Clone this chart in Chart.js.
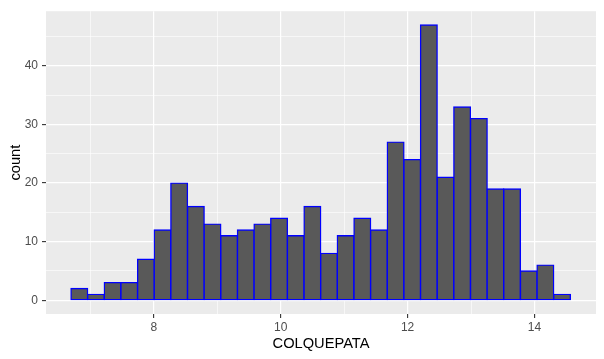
<!DOCTYPE html>
<html>
<head>
<meta charset="utf-8">
<script src="https://cdn.jsdelivr.net/npm/chart.js@4.4.1/dist/chart.umd.min.js"></script>
<style>
    html, body {
        margin: 0;
        padding: 0;
        background: #ffffff;
    }
    #wrap {
        width: 604px;
        height: 359px;
    }
</style>
</head>
<body>
<div id="wrap"><canvas id="myChart" width="604" height="359"></canvas></div>
<script>
// histogram of COLQUEPATA, 30 bins
const binCenters = [6.825, 7.087, 7.350, 7.612, 7.875, 8.137, 8.399, 8.662, 8.924, 9.187,
    9.449, 9.711, 9.974, 10.236, 10.499, 10.761, 11.023, 11.286, 11.548, 11.811,
    12.073, 12.335, 12.598, 12.860, 13.123, 13.385, 13.647, 13.910, 14.172, 14.435];
const counts = [2, 1, 3, 3, 7, 12, 20, 16, 13, 11,
    12, 13, 14, 11, 16, 8, 11, 14, 12, 27,
    24, 47, 21, 33, 31, 19, 19, 5, 6, 1];
const xTickLabels = [8, 10, 12, 14];
const yTickLabels = [0, 10, 20, 30, 40];
const xTitle = 'COLQUEPATA';
const yTitle = 'count';

const tickFont = { family: 'Liberation Sans, Arial, sans-serif', size: 12 };
const titleFont = { family: 'Liberation Sans, Arial, sans-serif', size: 14.67 };

let points = [];
for (let i = 0; i < binCenters.length; i++) {
    points.push({ x: binCenters[i], y: counts[i] });
}

function isMajor(list, value) {
    return list.some(v => Math.abs(v - value) < 1e-6);
}

const panelBg = {
    id: 'panelBg',
    beforeDraw(chart) {
        const a = chart.chartArea;
        const ctx = chart.ctx;
        ctx.save();
        ctx.fillStyle = '#EBEBEB';
        ctx.fillRect(a.left, a.top, a.right - a.left, a.bottom - a.top);
        ctx.restore();
    }
};

const data = {
    datasets: [{
        label: 'count',
        data: points,
        backgroundColor: '#595959',
        borderColor: '#0000FF',
        borderWidth: 1.4,
        inflateAmount: 0.7,
        borderSkipped: false,
        barPercentage: 1,
        categoryPercentage: 1
    }]
};

const config = {
    type: 'bar',
    data: data,
    plugins: [panelBg],
    options: {
        responsive: false,
        animation: false,
        layout: {
            padding: { top: 7, right: 8, left: 0, bottom: 0 }
        },
        plugins: {
            legend: { display: false },
            tooltip: { enabled: false }
        },
        scales: {
            x: {
                type: 'linear',
                min: 6.30,
                max: 14.97,
                offset: false,
                border: { display: false },
                grid: {
                    offset: false,
                    color: '#FFFFFF',
                    lineWidth: ctx => isMajor(xTickLabels, ctx.tick.value) ? 1.2 : 0.6,
                    tickColor: ctx => isMajor(xTickLabels, ctx.tick.value) ? '#333333' : 'rgba(0,0,0,0)',
                    tickWidth: 1.1,
                    tickLength: 4
                },
                ticks: {
                    stepSize: 1,
                    includeBounds: false,
                    maxRotation: 0,
                    autoSkip: false,
                    padding: 2,
                    color: '#4D4D4D',
                    font: tickFont,
                    callback: value => isMajor(xTickLabels, value) ? String(value) : ''
                },
                title: {
                    display: true,
                    text: xTitle,
                    color: '#000000',
                    font: titleFont,
                    padding: { top: 0, bottom: 6 }
                },
                afterFit: scale => { scale.height = 45; }
            },
            y: {
                min: -2.35,
                max: 49.35,
                border: { display: false },
                grid: {
                    color: '#FFFFFF',
                    lineWidth: ctx => isMajor(yTickLabels, ctx.tick.value) ? 1.2 : 0.6,
                    tickColor: ctx => isMajor(yTickLabels, ctx.tick.value) ? '#333333' : 'rgba(0,0,0,0)',
                    tickWidth: 1.1,
                    tickLength: 4
                },
                ticks: {
                    stepSize: 5,
                    includeBounds: false,
                    autoSkip: false,
                    padding: 4,
                    color: '#4D4D4D',
                    font: tickFont,
                    callback: value => isMajor(yTickLabels, value) ? String(value) : ''
                },
                title: {
                    display: true,
                    text: yTitle,
                    color: '#000000',
                    font: titleFont,
                    padding: { top: 7, bottom: 0 }
                },
                afterFit: scale => { scale.width = 46; }
            }
        }
    }
};

let myChart = new Chart(document.getElementById('myChart'), config);
</script>
</body>
</html>
